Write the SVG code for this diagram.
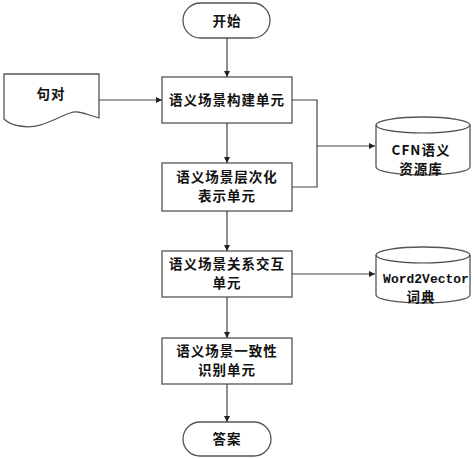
<svg xmlns="http://www.w3.org/2000/svg" width="474" height="459" viewBox="0 0 474 459">
<defs>
<style>
.s{fill:#fff;stroke:#555;stroke-width:1.3}
.t{font-family:"Noto Sans CJK SC","Noto Sans",sans-serif;font-size:13.5px;font-weight:bold;fill:#111;text-anchor:middle;letter-spacing:1px}
.m{font-family:"Liberation Mono","Noto Sans CJK SC",monospace;font-size:13px;font-weight:bold;fill:#111;text-anchor:middle}
.c{fill:none;stroke:#444;stroke-width:1.2}
</style>
<marker id="a" viewBox="0 0 8 8" refX="8" refY="4" markerWidth="6" markerHeight="6" orient="auto" markerUnits="userSpaceOnUse">
<path d="M0,0 L8,4 L0,8 Z" fill="#222"/>
</marker>
</defs>
<rect width="474" height="459" fill="#fff"/>
<g id="start">
<rect class="s" x="183" y="3" width="87" height="35" rx="17.5"/>
<text class="t" x="227" y="25.5">开始</text>
</g>
<g id="juedui">
<path class="s" d="M4,74 H99 V118 C85,114 78,110 70,113 C55,118 40,130 20,126 C12,125 7,122 4,119 Z"/>
<text class="t" x="51" y="99">句对</text>
</g>
<g id="unit1">
<rect class="s" x="162" y="77" width="130" height="46"/>
<text class="t" x="227" y="104.5">语义场景构建单元</text>
</g>
<g id="unit2">
<rect class="s" x="162" y="163" width="130" height="48"/>
<text class="t" x="227" y="182">语义场景层次化</text>
<text class="t" x="227" y="201">表示单元</text>
</g>
<g id="unit3">
<rect class="s" x="162" y="251" width="130" height="46"/>
<text class="t" x="227" y="269">语义场景关系交互</text>
<text class="t" x="227" y="288">单元</text>
</g>
<g id="unit4">
<rect class="s" x="162" y="338" width="130" height="46"/>
<text class="t" x="227" y="356">语义场景一致性</text>
<text class="t" x="227" y="375">识别单元</text>
</g>
<g id="end">
<rect class="s" x="183" y="422" width="88" height="34" rx="17"/>
<text class="t" x="227" y="444">答案</text>
</g>
<g id="cfn">
<path class="s" d="M376,125 A47,8 0 0 1 470,125 V167 A47,8 0 0 1 376,167 Z"/>
<path class="c" d="M376,125 A47,8 0 0 0 470,125"/>
<text class="t" x="421" y="155">CFN语义</text>
<text class="t" x="421" y="174">资源库</text>
</g>
<g id="w2v">
<path class="s" d="M376,255 A47,8 0 0 1 470,255 V295 A47,8 0 0 1 376,295 Z"/>
<path class="c" d="M376,255 A47,8 0 0 0 470,255"/>
<text class="m" x="426" y="283">Word2Vector</text>
<text class="t" x="421" y="302">词典</text>
</g>
<g id="connectors">
<path class="c" d="M227,38 V77" marker-end="url(#a)"/>
<path class="c" d="M99,100 H162" marker-end="url(#a)"/>
<path class="c" d="M227,123 V163" marker-end="url(#a)"/>
<path class="c" d="M292,100 H317 V187 H292"/>
<path class="c" d="M317,146 H375" marker-end="url(#a)"/>
<path class="c" d="M227,211 V251" marker-end="url(#a)"/>
<path class="c" d="M292,274 H375" marker-end="url(#a)"/>
<path class="c" d="M227,297 V338" marker-end="url(#a)"/>
<path class="c" d="M227,384 V422" marker-end="url(#a)"/>
</g>
</svg>
